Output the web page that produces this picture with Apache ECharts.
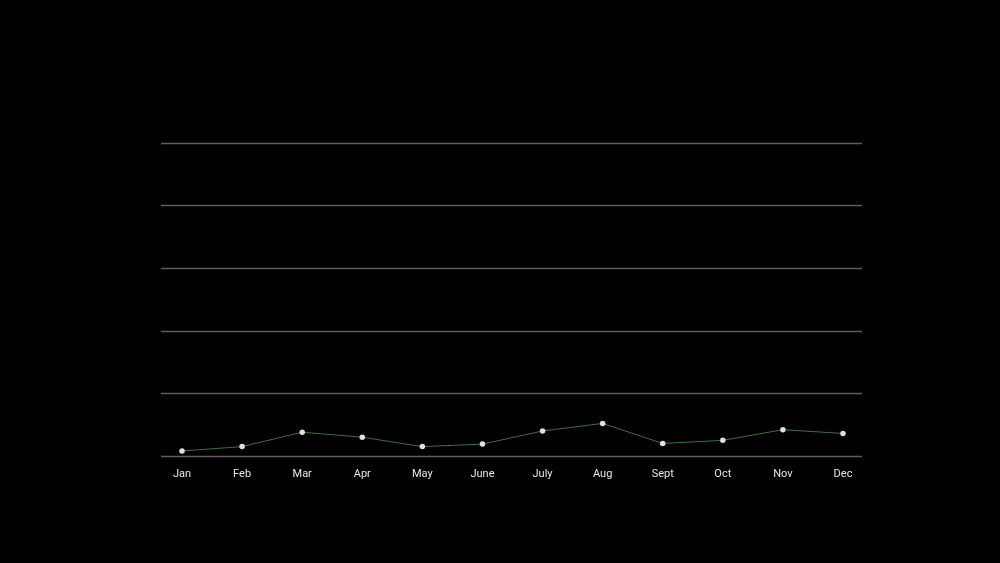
<!DOCTYPE html>
<html>
<head>
<meta charset="utf-8">
<script src="https://cdn.jsdelivr.net/npm/echarts@6/dist/echarts.min.js"></script>
<style>
html,body{margin:0;padding:0;background:#000;}
#c{width:1000px;height:563px;}
</style>
</head>
<body>
<div id="c"></div>
<script>
const months = ['Jan','Feb','Mar','Apr','May','June','July','Aug','Sept','Oct','Nov','Dec'];
const values = [0.8, 1.5, 3.8, 3.0, 1.5, 1.9, 4.0, 5.2, 2.0, 2.5, 4.2, 3.6];
const yMin = 0, yMax = 50, yStep = 10;

const chart = echarts.init(document.getElementById('c'));
chart.setOption({
  backgroundColor: '#000000',
  animation: false,
  grid: [
    {left: 161, right: 138, top: 143, bottom: 107},
    {left: 182, right: 157, top: 143, bottom: 107}
  ],
  xAxis: [
    {gridIndex: 0, type: 'category', data: months, show: false},
    {gridIndex: 1, type: 'category', data: months, boundaryGap: false,
     axisLine: {show: false}, axisTick: {show: false}, splitLine: {show: false},
     axisLabel: {color: '#e6e6e6', fontSize: 11, margin: 13, fontFamily: 'Roboto, sans-serif', interval: 0}}
  ],
  yAxis: [
    {gridIndex: 0, type: 'value', min: yMin, max: yMax, interval: yStep,
     axisLine: {show: false}, axisTick: {show: false}, axisLabel: {show: false},
     splitLine: {show: true, lineStyle: {color: '#5c5c5c', width: 1.3}}},
    {gridIndex: 1, type: 'value', min: yMin, max: yMax, interval: yStep, show: false,
     splitLine: {show: false}}
  ],
  series: [{
    type: 'line',
    xAxisIndex: 1, yAxisIndex: 1,
    data: values,
    symbol: 'circle',
    symbolSize: 5.5,
    lineStyle: {color: '#3a723a', width: 1},
    itemStyle: {color: '#e0e0e0', borderWidth: 0}
  }]
});
</script>
</body>
</html>
